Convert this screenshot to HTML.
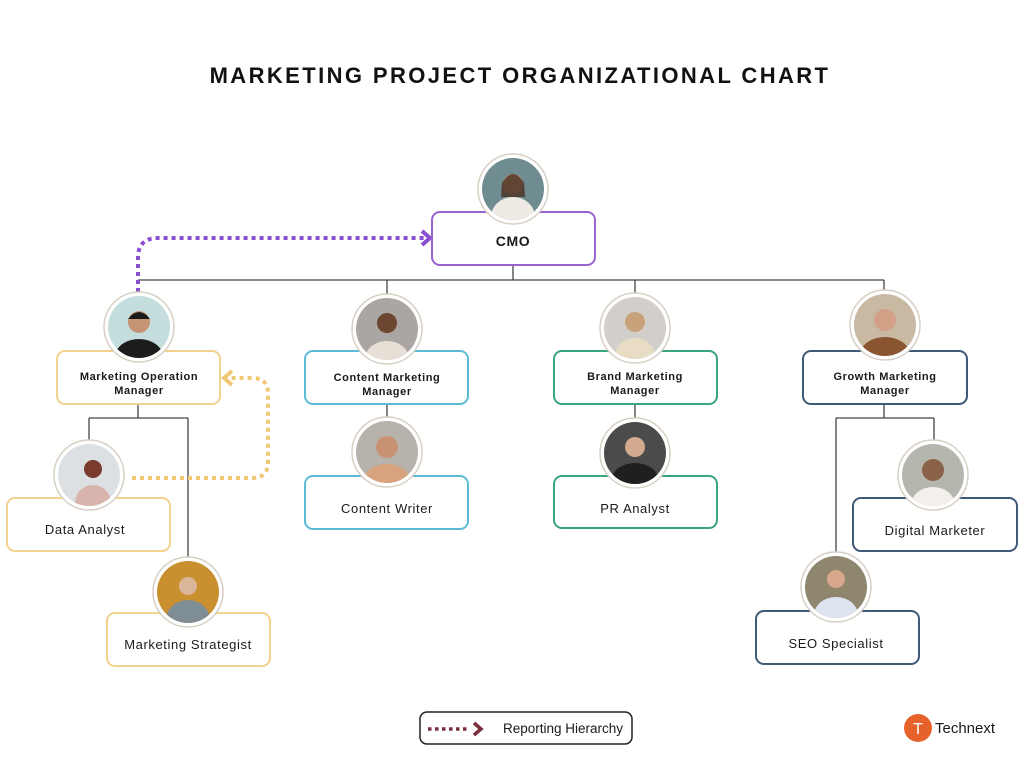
<!DOCTYPE html>
<html><head><meta charset="utf-8"><style>
html,body{margin:0;padding:0;background:#fff;}
svg{display:block;}
text{font-family:"Liberation Sans",Arial,sans-serif;fill:#1a1a1a;}
</style></head><body>
<svg width="1024" height="768" viewBox="0 0 1024 768" xmlns="http://www.w3.org/2000/svg">
<defs>
<clipPath id="c1"><circle cx="0" cy="0" r="31"/></clipPath>
</defs>
<text x="520" y="83" text-anchor="middle" font-size="22" font-weight="bold" letter-spacing="2.4" style="fill:#111">MARKETING PROJECT ORGANIZATIONAL CHART</text>

<!-- connectors -->
<g stroke="#444" stroke-width="1.3" fill="none">
<path d="M513 265V280M138 280H884M387 280V296M635 280V294M884 280V292"/>
<path d="M387 404V420M635 404V420"/>
<path d="M138 404V418M89 418H188M89 418V442M188 418V558"/>
<path d="M884 404V418M836 418H934M934 418V442M836 418V553"/>
</g>

<!-- dotted reporting lines -->
<path d="M138 292V258Q138 238 158 238H426" stroke="#8a4fd0" stroke-width="4" stroke-dasharray="4 4" fill="none"/>
<path d="M422 231L430 238L422 245" stroke="#8a4fd0" stroke-width="4" fill="none"/>
<path d="M132 478H252Q268 478 268 462V394Q268 378 252 378H230" stroke="#f0c875" stroke-width="4" stroke-dasharray="4 4" fill="none"/>
<path d="M232 371L224 378L232 385" stroke="#f0c875" stroke-width="4" fill="none"/>

<!-- boxes -->
<g fill="#fff" stroke-width="2">
<rect x="432" y="212" width="163" height="53" rx="8" stroke="#9b62d3"/>
<rect x="57" y="351" width="163" height="53" rx="8" stroke="#f2d28c"/>
<rect x="305" y="351" width="163" height="53" rx="8" stroke="#5cbad6"/>
<rect x="554" y="351" width="163" height="53" rx="8" stroke="#3aa57a"/>
<rect x="803" y="351" width="164" height="53" rx="8" stroke="#3f5a78"/>
<rect x="305" y="476" width="163" height="53" rx="8" stroke="#5cbad6"/>
<rect x="554" y="476" width="163" height="52" rx="8" stroke="#3aa57a"/>
<rect x="7" y="498" width="163" height="53" rx="8" stroke="#f2d28c"/>
<rect x="107" y="613" width="163" height="53" rx="8" stroke="#f2d28c"/>
<rect x="853" y="498" width="164" height="53" rx="8" stroke="#3f5a78"/>
<rect x="756" y="611" width="163" height="53" rx="8" stroke="#3f5a78"/>
</g>

<!-- labels -->
<g font-size="12.5" font-weight="bold" text-anchor="middle" letter-spacing="0.6">
<text x="513" y="246" font-size="14">CMO</text>
<text x="139" y="380" font-size="11">Marketing Operation</text><text x="139" y="394" font-size="11">Manager</text>
<text x="387" y="381" font-size="11">Content Marketing</text><text x="387" y="395" font-size="11">Manager</text>
<text x="635" y="380" font-size="11">Brand Marketing</text><text x="635" y="394" font-size="11">Manager</text>
<text x="885" y="380" font-size="11">Growth Marketing</text><text x="885" y="394" font-size="11">Manager</text>
</g>
<g font-size="13" text-anchor="middle" letter-spacing="0.6">
<text x="387" y="513">Content Writer</text>
<text x="635" y="513">PR Analyst</text>
<text x="85" y="534">Data Analyst</text>
<text x="188" y="649">Marketing Strategist</text>
<text x="935" y="535">Digital Marketer</text>
<text x="836" y="648">SEO Specialist</text>
</g>

<!-- photos -->
<g id="photos">
<g transform="translate(513,189)"><circle r="35" fill="#fff" stroke="#d8cfc4" stroke-width="1.5"/><g clip-path="url(#c1)"><rect x="-31" y="-31" width="62" height="62" fill="#6f8c90"/><ellipse cx="0" cy="28" rx="22" ry="20" fill="#efeae4"/><circle cx="0" cy="-5" r="10" fill="#c99a7e"/><path d="M-11 -6Q0 -24 11 -6L12 8H-12Z" fill="#4a2f22" opacity=".8"/></g></g>
<g transform="translate(139,327)"><circle r="35" fill="#fff" stroke="#d8cfc4" stroke-width="1.5"/><g clip-path="url(#c1)"><rect x="-31" y="-31" width="62" height="62" fill="#c4dede"/><ellipse cx="0" cy="30" rx="24" ry="18" fill="#1c1c1c"/><circle cx="0" cy="-5" r="11" fill="#c59474"/><path d="M-11 -8Q0 -22 11 -8Z" fill="#1a1a1a"/></g></g>
<g transform="translate(387,329)"><circle r="35" fill="#fff" stroke="#d8cfc4" stroke-width="1.5"/><g clip-path="url(#c1)"><rect x="-31" y="-31" width="62" height="62" fill="#a9a6a3"/><ellipse cx="0" cy="30" rx="22" ry="18" fill="#e7dfd5"/><circle cx="0" cy="-6" r="10" fill="#6b4631"/></g></g>
<g transform="translate(635,328)"><circle r="35" fill="#fff" stroke="#d8cfc4" stroke-width="1.5"/><g clip-path="url(#c1)"><rect x="-31" y="-31" width="62" height="62" fill="#d2cfcb"/><ellipse cx="0" cy="28" rx="20" ry="18" fill="#e9dcc4"/><circle cx="0" cy="-6" r="10" fill="#c8a27a"/></g></g>
<g transform="translate(885,325)"><circle r="35" fill="#fff" stroke="#d8cfc4" stroke-width="1.5"/><g clip-path="url(#c1)"><rect x="-31" y="-31" width="62" height="62" fill="#c9b9a3"/><ellipse cx="0" cy="30" rx="25" ry="18" fill="#8a5530"/><circle cx="0" cy="-5" r="11" fill="#d0a184"/></g></g>
<g transform="translate(387,452)"><circle r="35" fill="#fff" stroke="#d8cfc4" stroke-width="1.5"/><g clip-path="url(#c1)"><rect x="-31" y="-31" width="62" height="62" fill="#b7b2ac"/><ellipse cx="0" cy="30" rx="24" ry="18" fill="#d8a27e"/><circle cx="0" cy="-5" r="11" fill="#c89272"/></g></g>
<g transform="translate(635,453)"><circle r="35" fill="#fff" stroke="#d8cfc4" stroke-width="1.5"/><g clip-path="url(#c1)"><rect x="-31" y="-31" width="62" height="62" fill="#4b4b4b"/><ellipse cx="0" cy="28" rx="24" ry="18" fill="#1f1f1f"/><circle cx="0" cy="-6" r="10" fill="#d2ab90"/></g></g>
<g transform="translate(89,475)"><circle r="35" fill="#fff" stroke="#d8cfc4" stroke-width="1.5"/><g clip-path="url(#c1)"><rect x="-31" y="-31" width="62" height="62" fill="#dde0e3"/><ellipse cx="4" cy="28" rx="18" ry="18" fill="#d8b4ad"/><circle cx="4" cy="-6" r="9" fill="#7a3a2e"/></g></g>
<g transform="translate(188,592)"><circle r="35" fill="#fff" stroke="#d8cfc4" stroke-width="1.5"/><g clip-path="url(#c1)"><rect x="-31" y="-31" width="62" height="62" fill="#c8902e"/><ellipse cx="0" cy="28" rx="22" ry="20" fill="#7f8d96"/><circle cx="0" cy="-6" r="9" fill="#dbb59a"/></g></g>
<g transform="translate(933,475)"><circle r="35" fill="#fff" stroke="#d8cfc4" stroke-width="1.5"/><g clip-path="url(#c1)"><rect x="-31" y="-31" width="62" height="62" fill="#b5b7ae"/><ellipse cx="0" cy="30" rx="22" ry="18" fill="#f3f0ec"/><circle cx="0" cy="-5" r="11" fill="#8a6248"/></g></g>
<g transform="translate(836,587)"><circle r="35" fill="#fff" stroke="#d8cfc4" stroke-width="1.5"/><g clip-path="url(#c1)"><rect x="-31" y="-31" width="62" height="62" fill="#8f866e"/><ellipse cx="0" cy="28" rx="22" ry="18" fill="#dde4ef"/><circle cx="0" cy="-8" r="9" fill="#d7a78c"/></g></g>
</g>

<!-- legend -->
<rect x="420" y="712" width="212" height="32" rx="7" fill="#fff" stroke="#222" stroke-width="1.5"/>
<path d="M428 729H470" stroke="#7a2e3a" stroke-width="3.5" stroke-dasharray="3.5 3.5"/>
<path d="M474 723L481 729L474 735" stroke="#7a2e3a" stroke-width="3.5" fill="none"/>
<text x="503" y="733" font-size="13.5">Reporting Hierarchy</text>
<circle cx="918" cy="728" r="14" fill="#e5622a"/>
<text x="918" y="734" font-size="16" text-anchor="middle" style="fill:#fff">T</text>
<text x="935" y="733" font-size="15">Technext</text>
</svg>
</body></html>
